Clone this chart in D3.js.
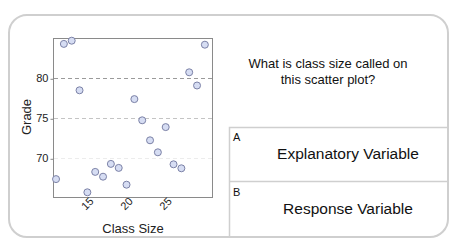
<!DOCTYPE html>
<html>
<head>
<meta charset="utf-8">
<script src="https://cdn.jsdelivr.net/npm/d3@7"></script>
<style>
  body { margin: 0; background: #fff; font-family: "Liberation Sans", Arial, sans-serif; }
</style>
</head>
<body>
<svg id="chart" width="460" height="250"></svg>
<script>
// class size vs grade
var classSize = [11, 12, 13, 14, 15, 16, 17, 18, 19, 20, 21, 22, 23, 24, 25, 26, 27, 28, 29, 30];
var grade = [67.4, 84.3, 84.7, 78.5, 65.75, 68.3, 67.7, 69.3, 68.8, 66.7, 77.4, 74.75, 72.25, 70.75, 73.9, 69.25, 68.75, 80.75, 79.1, 84.2];
var xTicks = [15, 20, 25];
var yTicks = [70, 75, 80];
var gridColors = ["#ececec", "#c4c4c4", "#9a9a9a"];

var question = ["What is class size called on", "this scatter plot?"];
var answers = [{letter: "A", text: "Explanatory Variable"}, {letter: "B", text: "Response Variable"}];

var svg = d3.select("#chart");

// card outline
svg.append("rect")
    .attr("x", 9).attr("y", 15)
    .attr("width", 439).attr("height", 222)
    .attr("rx", 18).attr("ry", 18)
    .attr("fill", "#fff")
    .attr("stroke", "#cfcfcf")
    .attr("stroke-width", 2);

var x = d3.scaleLinear().domain([10.65, 31.0]).range([53.3, 212.7]);
var y = d3.scaleLinear().domain([65.125, 85]).range([197.3, 38.3]);

// gridlines
svg.append("g").selectAll("line")
    .data(yTicks)
    .enter()
    .append("line")
    .attr("x1", 54).attr("x2", 212)
    .attr("y1", function(d) { return Math.round(y(d)) + 0.5; })
    .attr("y2", function(d) { return Math.round(y(d)) + 0.5; })
    .attr("stroke", function(d, i) { return gridColors[i]; })
    .attr("stroke-dasharray", "4,3");

// plot frame
svg.append("rect")
    .attr("x", 53.5).attr("y", 38.5)
    .attr("width", 159).attr("height", 159)
    .attr("fill", "none")
    .attr("stroke", "#8a8a8a")
    .attr("stroke-width", 1);

// y axis
var yAxis = svg.append("g")
    .attr("transform", "translate(53.5,0)")
    .call(d3.axisLeft(y).tickValues(yTicks).tickSize(3).tickPadding(2));
yAxis.select(".domain").remove();
yAxis.selectAll("line").attr("stroke", "#8a8a8a").attr("transform", "translate(0,0.5)");
yAxis.selectAll("text")
    .attr("font-family", "Liberation Sans, Arial, sans-serif")
    .attr("font-size", 11)
    .attr("fill", "#222");

// x axis labels, slanted
svg.append("g").selectAll("text")
    .data(xTicks)
    .enter()
    .append("text")
    .attr("transform", function(d) { return "translate(" + (x(d) + 7) + ",202) rotate(-45)"; })
    .attr("text-anchor", "end")
    .attr("font-size", 11)
    .attr("fill", "#222")
    .text(function(d) { return d; });

// points
svg.append("g").selectAll("circle")
    .data(classSize)
    .enter()
    .append("circle")
    .attr("cx", function(d) { return x(d); })
    .attr("cy", function(d, i) { return y(grade[i]); })
    .attr("r", 3.5)
    .attr("fill", "#d6ddf3")
    .attr("stroke", "#7b81a6")
    .attr("stroke-width", 1);

// axis titles
svg.append("text")
    .attr("x", 133).attr("y", 232.5)
    .attr("text-anchor", "middle")
    .attr("font-size", 13)
    .attr("fill", "#222")
    .text("Class Size");

svg.append("text")
    .attr("transform", "translate(31,117) rotate(-90)")
    .attr("text-anchor", "middle")
    .attr("font-size", 13)
    .attr("fill", "#222")
    .text("Grade");

// question
svg.append("g").selectAll("text")
    .data(question)
    .enter()
    .append("text")
    .attr("x", 328)
    .attr("y", function(d, i) { return 68 + i * 16; })
    .attr("text-anchor", "middle")
    .attr("font-size", 13)
    .attr("fill", "#111")
    .text(function(d) { return d; });

// answer boxes
svg.append("path")
    .attr("d", "M229.5,237 V127.5 H448 M229.5,181.5 H448")
    .attr("fill", "none")
    .attr("stroke", "#cfcfcf")
    .attr("stroke-width", 1.5);

var ans = svg.append("g").selectAll("g")
    .data(answers)
    .enter()
    .append("g")
    .attr("transform", function(d, i) { return "translate(0," + (i * 54.5) + ")"; });

ans.append("text")
    .attr("x", 233).attr("y", 141)
    .attr("font-size", 11)
    .attr("fill", "#111")
    .text(function(d) { return d.letter; });

ans.append("text")
    .attr("x", 348).attr("y", 159)
    .attr("text-anchor", "middle")
    .attr("font-size", 15.5)
    .attr("fill", "#111")
    .text(function(d) { return d.text; });
</script>
</body>
</html>
